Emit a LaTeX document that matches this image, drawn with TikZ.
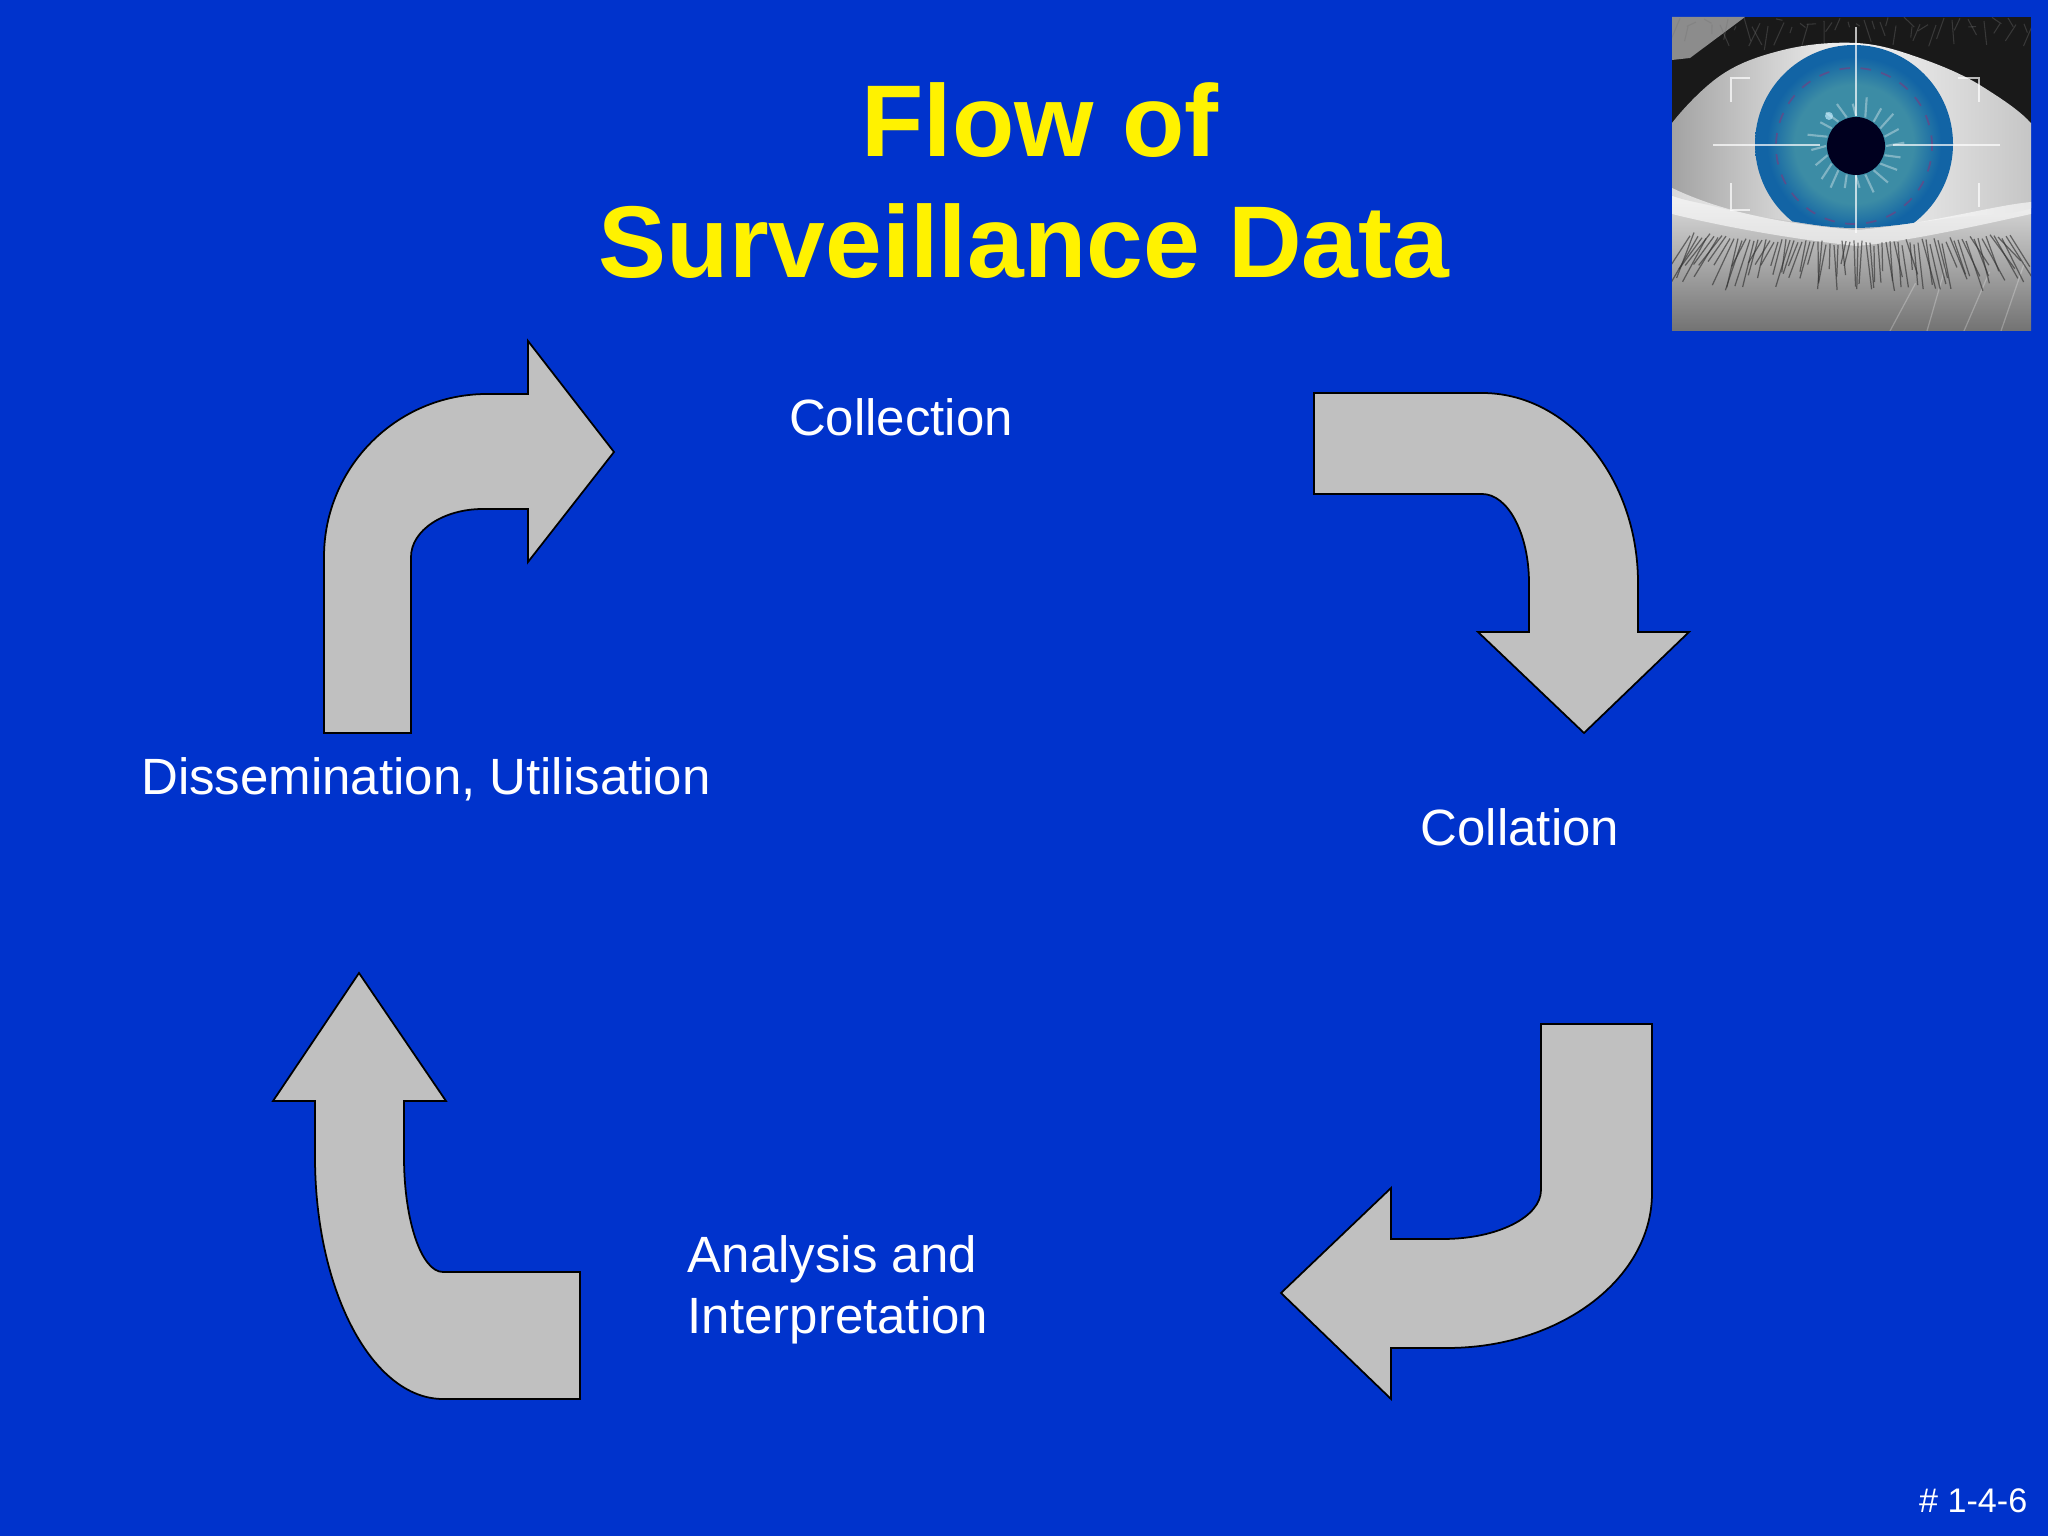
\documentclass[tikz,border=0pt]{standalone}
\usepackage{fontspec}
\setmainfont{Liberation Sans}
\definecolor{slideblue}{RGB}{0,51,204}
\definecolor{arrowgrey}{RGB}{192,192,192}
\definecolor{irisrim}{RGB}{10,60,130}
\definecolor{irismid}{RGB}{18,100,165}
\definecolor{irisring}{RGB}{60,140,165}
\pgfdeclareradialshading{irisshade}{\pgfpoint{0bp}{0bp}}{
  color(0bp)=(irisring);
  color(15bp)=(irisring);
  color(22bp)=(irismid);
  color(38bp)=(irismid);
  color(50bp)=(irisrim)}
\tikzset{
  blockarrow/.style={draw=black,fill=arrowgrey,line width=0.5pt},
  titletext/.style={inner sep=0pt,anchor=base,text=yellow,font=\fontsize{29}{35}\selectfont\bfseries},
  labeltext/.style={inner sep=0pt,anchor=base,text=white,font=\fontsize{14.5}{17.4}\selectfont},
  crosshair/.style={draw=white,line width=0.35pt,opacity=0.7},
  eyelash/.style={draw=black!80,line width=0.35pt,opacity=0.65}
}
\newcommand{\eyeopening}{plot[smooth cycle,tension=0.6] coordinates {(1660,1395) (1717,1458) (1783,1486) (1856,1493) (1917,1479) (1983,1449) (2040,1400) (2040,1333) (1950,1318) (1857,1308) (1783,1316) (1717,1329) (1660,1348)}}
\begin{document}
\begin{tikzpicture}[x=0.01cm,y=0.01cm]
    \useasboundingbox (0,0) rectangle (2048,1536);
    \fill[slideblue] (0,0) rectangle (2048,1536);
    % title
    \node[titletext] (flowof) at (1040,1379) {Flow of};
    \node[titletext] (surveillance) at (1024,1258) {Surveillance Data};
    % stages
    \node[labeltext] (collection) at (901,1100) {Collection};
    \node[labeltext] (collation) at (1520,690) {Collation};
    \node[labeltext,align=left,anchor=base west] (analysis) at (687,202) {Analysis and\\Interpretation};
    \node[labeltext] (dissemination) at (426,741) {Dissemination, Utilisation};
    \node[inner sep=0pt,anchor=base east,text=white,font=\fontsize{9.7}{11}\selectfont] (slidenumber) at (2028,23) {\# 1-4-6};
    % arrow towards collection
    \draw[blockarrow] (324,803) -- (324,979) arc[start angle=180,end angle=90,x radius=163,y radius=163]
        -- (528,1142) -- (528,1195) -- (614,1084) -- (528,974) -- (528,1027) -- (483,1027)
        arc[start angle=90,end angle=180,x radius=72,y radius=48] -- (411,803) -- cycle;
    % arrow towards collation
    \draw[blockarrow] (1314,1143) -- (1482,1143) arc[start angle=90,end angle=0,x radius=156,y radius=190]
        -- (1638,904) -- (1689,904) -- (1584,803) -- (1478,904) -- (1529,904) -- (1529,953)
        arc[start angle=0,end angle=90,x radius=47,y radius=89] -- (1314,1042) -- cycle;
    % arrow towards analysis
    \draw[blockarrow] (1541,512) -- (1652,512) -- (1652,343) arc[start angle=0,end angle=-90,x radius=205,y radius=155]
        -- (1391,188) -- (1391,137) -- (1281,243) -- (1391,348) -- (1391,297) -- (1443,297)
        arc[start angle=-90,end angle=0,x radius=98,y radius=49] -- cycle;
    % arrow towards dissemination
    \draw[blockarrow] (359,563) -- (446,435) -- (404,435) -- (404,379)
        arc[start angle=180,end angle=270,x radius=39,y radius=115] -- (580,264) -- (580,137) -- (443,137)
        arc[start angle=270,end angle=180,x radius=128,y radius=242] -- (315,435) -- (273,435) -- cycle;
    % eye picture
    \begin{scope}
        \clip (1672,1205) rectangle (2031,1519);
        \shade[top color=black!12,middle color=black!28,bottom color=black!55] (1672,1205) rectangle (2031,1345);
        \fill[black!90] (1672,1340) rectangle (2031,1519);
        \pgfmathsetseed{7}
        % upper lashes
        \fill[black!45] (1672,1519) -- (1745,1519) -- (1690,1478) -- (1672,1476) -- cycle;
        \foreach \i in {0,...,44}
            \draw[black!55,line width=0.3pt,opacity=0.35] (1680+8*\i,1519-10*rnd) -- ++(-12+24*rnd,-25*rnd);
        \shade[left color=black!40,right color=black!25,middle color=black!4] \eyeopening;
        % iris
        \begin{scope}
            \clip \eyeopening;
            \shade[shading=irisshade] (1854,1392) circle[radius=99];
            \draw[magenta!50!blue!70!black,line width=0.5pt,dashed,opacity=0.6] (1854,1390) circle[radius=78];
            \foreach \a in {0,18,...,342}
                \draw[irisring!50!white,line width=0.6pt,opacity=0.7] (1856,1390) ++(\a:30) -- ++(\a+12:12+9*rnd);
            \fill[black!88!blue] (1856,1390) circle[radius=29];
            \fill[cyan!25!white,opacity=0.7] (1829,1420) circle[radius=4];
        \end{scope}
        % lower lid
        \fill[white,opacity=0.6] (1672,1348) .. controls (1720,1325) and (1780,1312) .. (1857,1306)
            .. controls (1930,1312) and (1990,1330) .. (2031,1334) -- (2031,1322)
            .. controls (1950,1304) and (1900,1294) .. (1857,1290) .. controls (1790,1297) and (1720,1310) .. (1672,1322) -- cycle;
        % skin streaks
        \foreach \i in {0,...,3}
            \draw[white,line width=0.35pt,opacity=0.25] (1890+37*\i,1205) -- ++(15+20*rnd,45+25*rnd);
        % lower lashes
        \foreach \i [evaluate=\i as \lashx using 1690+4*\i, evaluate=\i as \lashy using 1296+0.03*((4*\i-166)/10)^2] in {0,...,80}
            \draw[eyelash] (\lashx,\lashy-6*rnd) -- ++(0.56*\i-29+12*rnd,-22-28*rnd);
        % crosshair and brackets
        \draw[crosshair] (1856,1509) -- (1856,1420) (1856,1361) -- (1856,1303);
        \draw[crosshair] (1713,1391) -- (1820,1391) (1893,1391) -- (2000,1391);
        \draw[crosshair] (1731,1434) -- (1731,1458) -- (1750,1458);
        \draw[crosshair] (1958,1458) -- (1979,1458) -- (1979,1434);
        \draw[crosshair] (1731,1353) -- (1731,1326) -- (1750,1326);
        \draw[crosshair] (1979,1353) -- (1979,1329);
    \end{scope}
\end{tikzpicture}
\end{document}
